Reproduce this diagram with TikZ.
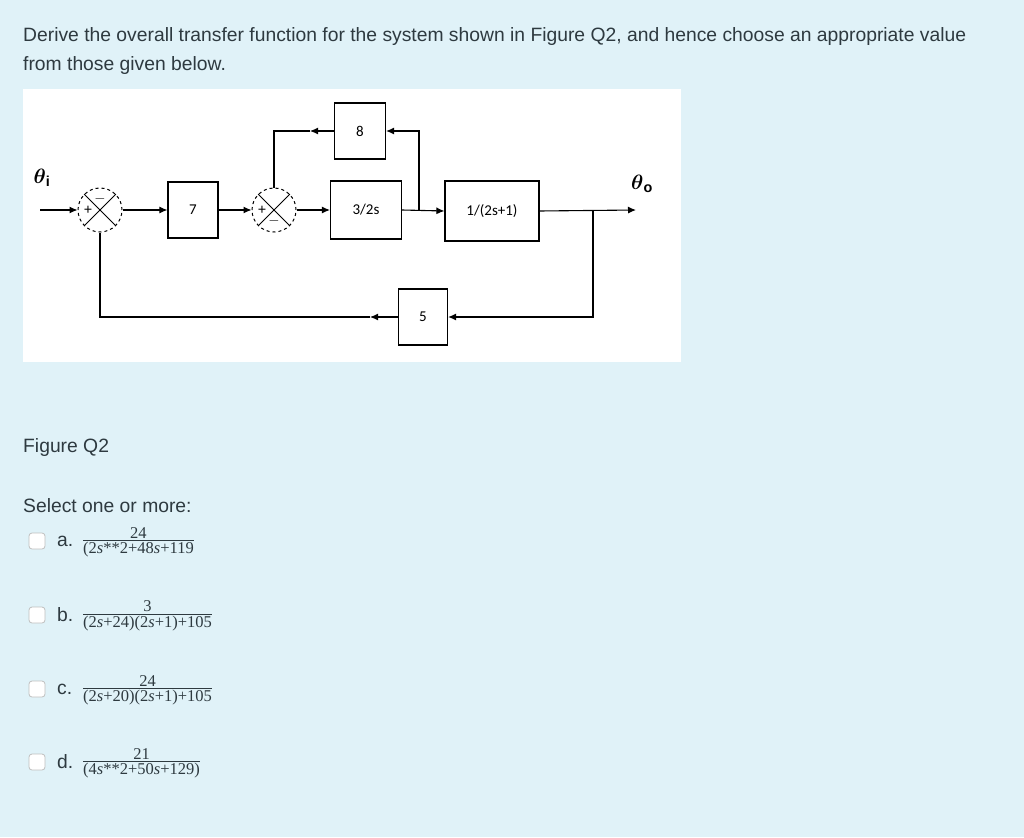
\documentclass[tikz,border=0pt]{standalone}
\usepackage{amsmath}
\usepackage{fontspec}
\setmainfont{Liberation Sans}
\newfontfamily\serf{Liberation Serif}
\newfontfamily\dia{Carlito}
\usetikzlibrary{arrows.meta,calc}
\definecolor{bg}{HTML}{E0F2F8}
\definecolor{txt}{HTML}{2E3A40}
\begin{document}
\begin{tikzpicture}[x=1pt,y=-1pt,
  blk/.style={draw,line width=1.2pt,minimum width=#1,minimum height=56pt,inner sep=0pt,font=\dia\fontsize{15}{17}\selectfont},
  sumc/.style={draw,dashed,line width=1pt,circle,minimum size=44pt,inner sep=0pt},
  ln/.style={line width=1.1pt},
  ar/.style={ln,-{Latex[length=8pt,width=7pt]}},
  q/.style={font=\fontsize{19.3}{23}\selectfont,text=txt,anchor=west,inner sep=0pt},
  cb/.style={draw=gray!50,fill=white,rounded corners=3pt,minimum size=16pt,inner sep=0pt,line width=0.8pt},
  fr/.style={font=\serf\fontsize{16.5}{18}\selectfont,text=txt,anchor=west,inner sep=0pt}]
\fill[bg] (0,0) rectangle (1024,837);
\useasboundingbox (0,0) rectangle (1024,837);
\node[q] (t1) at (23,37) {Derive the overall transfer function for the system shown in Figure Q2, and hence choose an appropriate value};
\node[q] (t2) at (23,66) {from those given below.};
\fill[white] (23,89) rectangle (681,362);
% blocks
\node[sumc] (s1) at (100,210) {};
\node[blk=50pt] (b7) at (193,210) {7};
\node[sumc] (s2) at (274,210) {};
\node[blk=71pt,minimum height=58pt] (b32) at (366,210) {3/2s};
\node[blk=51pt] (b8) at (360,131) {8};
\node[blk=94pt,minimum height=60pt] (bg) at (492,211) {1/(2s+1)};
\node[blk=49pt] (b5) at (423,317) {5};
\foreach \s in {s1,s2}{
 \draw[line width=0.8pt] (\s.north west)--(\s.south east) (\s.north east)--(\s.south west);}
\node[font=\Large] at ([xshift=-12pt]s1.center) {+};
\node[font=\Large] at ([yshift=11pt]s1.center) {$-$};
\node[font=\Large] at ([xshift=-12pt]s2.center) {+};
\node[font=\Large] at ([yshift=-11pt]s2.center) {$-$};
\node[font=\huge] (ti) at (42,178) {$\boldsymbol\theta_{\mathbf i}$};
\node[font=\huge] (to) at (642,184) {$\boldsymbol\theta_{\mathbf o}$};
\coordinate (in) at (40,210);
\coordinate (tap1) at (419,210);
\coordinate (tap2) at (593,210);
\coordinate (out) at (636,210);
\draw[ar] (in)--(s1.west);
\draw[ar] (s1.east)--(b7.west);
\draw[ar] (b7.east)--(s2.west);
\draw[ar] (s2.east)--(b32.west);
\draw[ar] (b32.east)--(bg.west);
\draw[ar] (bg.east)--(out);
\draw[ar] (tap1)|-(b8.east);
\draw[ar] (b8.west)--(310,131);
\draw[ln] (310,131)-|(s2.north);
\draw[ar] (tap2)|-(b5.east);
\draw[ar] (b5.west)--(370,317);
\draw[ln] (370,317)-|(s1.south);
\node[q] (fig) at (23,448) {Figure Q2};
\node[q] (sel) at (23,506) {Select one or more:};
\foreach \y/\l/\n/\d in {541/a/24/(2\textit{s}**2+48\textit{s}+119,
  615/b/3/(2\textit{s}+24)(2\textit{s}+1)+105,
  689/c/24/(2\textit{s}+20)(2\textit{s}+1)+105,
  762/d/21/(4\textit{s}**2+50\textit{s}+129)}{
 \node[cb] at (37,\y) {};
 \node[q] at (57,\y) {\l.};
 \node[fr] (d\l) at (83,\y+9) {\d};
 \path (d\l.north west)++(0,-2) coordinate (L) (d\l.north east)++(0,-2) coordinate (R);
 \draw[txt,line width=0.6pt] (L)--(R);
 \node[fr,anchor=south] at ($ (L)!0.5!(R) + (0,-2) $) {\n};
}
\end{tikzpicture}
\end{document}
